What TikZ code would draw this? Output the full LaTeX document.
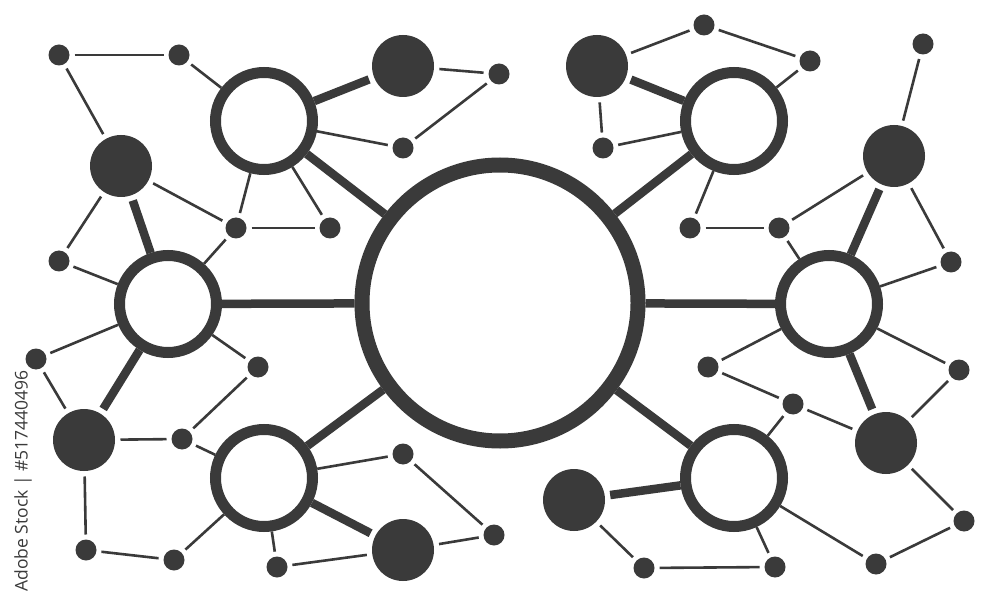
\documentclass[tikz,border=0pt]{standalone}
\usepackage{fontspec}
\setsansfont{Open Sans}
\definecolor{dk}{RGB}{58,58,58}
\tikzset{
 ring/.style={circle,draw=dk,fill=white,line width=11pt,inner sep=0pt,minimum size=97pt,outer sep=5.5pt},
 hub/.style={circle,draw=dk,fill=white,line width=15pt,inner sep=0pt,minimum size=276pt,outer sep=7.5pt},
 blob/.style={circle,fill=dk,inner sep=0pt,minimum size=62pt,outer sep=5.5pt},
 dot/.style={circle,fill=dk,inner sep=0pt,minimum size=21pt,outer sep=5pt},
 thinl/.style={draw=dk,line width=2.6pt},
 thickl/.style={draw=dk,line width=8.5pt},
}
\begin{document}
\begin{tikzpicture}[x=1pt,y=-1pt]
\path[use as bounding box,fill=white] (0,0) rectangle (1000,609);
% hub and rings
\node[hub] (hub) at (500,303) {};
\node[ring] (rTL) at (264,121) {};
\node[ring] (rL) at (168,304) {};
\node[ring] (rBL) at (264,478) {};
\node[ring] (rTR) at (734,121) {};
\node[ring] (rR) at (829,304) {};
\node[ring] (rBR) at (734,478) {};
% big filled circles
\node[blob] (bA) at (121,166) {};
\node[blob] (bB) at (403,66) {};
\node[blob] (bC) at (597,66) {};
\node[blob] (bD) at (894,156) {};
\node[blob] (bE) at (886,443) {};
\node[blob] (bF) at (574,500) {};
\node[blob] (bG) at (403,550) {};
\node[blob] (bH) at (84,440) {};
% small dots
\node[dot] (d1) at (59,55) {};
\node[dot] (d2) at (179,55) {};
\node[dot] (d3) at (236,228) {};
\node[dot] (d4) at (330,228) {};
\node[dot] (d5) at (59,261) {};
\node[dot] (d6) at (36,359) {};
\node[dot] (d7) at (258,367) {};
\node[dot] (d8) at (182,439) {};
\node[dot] (d9) at (86,550) {};
\node[dot] (d10) at (174,560) {};
\node[dot] (d11) at (277,567) {};
\node[dot] (d12) at (403,454) {};
\node[dot] (d13) at (494,535) {};
\node[dot] (d14) at (644,568) {};
\node[dot] (d15) at (403,148) {};
\node[dot] (d16) at (499,74) {};
\node[dot] (d17) at (603,148) {};
\node[dot] (d18) at (704,25) {};
\node[dot] (d19) at (810,61) {};
\node[dot] (d20) at (923,44) {};
\node[dot] (d21) at (690,228) {};
\node[dot] (d22) at (779,228) {};
\node[dot] (d23) at (951,262) {};
\node[dot] (d24) at (708,367) {};
\node[dot] (d25) at (793,404) {};
\node[dot] (d26) at (959,370) {};
\node[dot] (d27) at (964,521) {};
\node[dot] (d28) at (876,564) {};
\node[dot] (d29) at (775,567) {};
% thick connectors
\foreach \a/\b in {hub/rTL,hub/rL,hub/rBL,hub/rTR,hub/rR,hub/rBR,rTL/bB,rL/bA,rL/bH,rBL/bG,rTR/bC,rR/bD,rR/bE,rBR/bF}
  \draw[thickl] (\a) -- (\b);
% thin connectors
\foreach \a/\b in {d1/d2,d1/bA,d2/rTL,bA/d3,bA/d5,rTL/d3,rTL/d4,d3/d4,d3/rL,d5/rL,rTL/d15,bB/d16,d16/d15,bC/d17,d17/rTR,bC/d18,d18/d19,d19/rTR,d20/bD,rTR/d21,d21/d22,d22/bD,d22/rR,bD/d23,d23/rR,rR/d24,d24/d25,d25/bE,d25/rBR,rR/d26,d26/bE,bE/d27,d27/d28,rBR/d28,rBR/d29,d14/d29,bF/d14,d12/d13,bG/d13,rBL/d12,d11/bG,rL/d6,d6/bH,rL/d7,d7/d8,bH/d8,d8/rBL,bH/d9,d9/d10,d10/rBL,rBL/d11}
  \draw[thinl] (\a) -- (\b);
% side text
\node[rotate=90,text=dk,font=\sffamily\fontsize{17.5}{17.5}\selectfont,inner sep=0pt] (wm) at (23,481) {Adobe Stock | \#517440496};
\end{tikzpicture}
\end{document}
